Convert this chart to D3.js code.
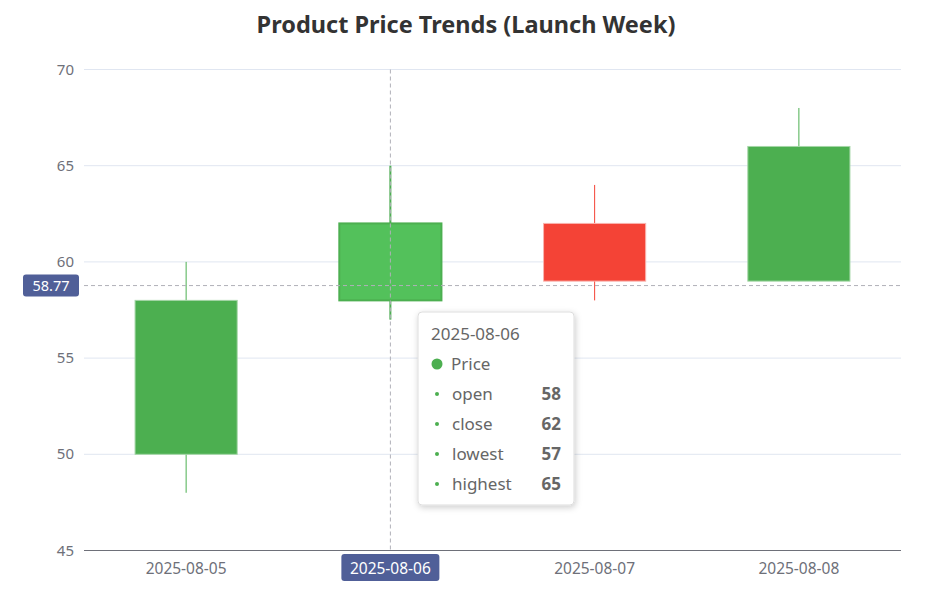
<!DOCTYPE html>
<html>
<head>
<meta charset="utf-8">
<script src="https://cdn.jsdelivr.net/npm/d3@7"></script>
<style>
  body { margin: 0; background: #fff; }
  svg { font-family: "Noto Sans", "Open Sans", sans-serif; }
</style>
</head>
<body>
<svg class="chartSVG" width="932" height="615"></svg>
<script>
const dates = ["2025-08-05", "2025-08-06", "2025-08-07", "2025-08-08"];
const openVals = [50, 58, 62, 59];
const closeVals = [58, 62, 59, 66];
const lowVals = [48, 57, 58, 59];
const highVals = [60, 65, 64, 68];
const yTicks = [45, 50, 55, 60, 65, 70];
const hoverIndex = 1;
const hoverValue = 58.77;

const svg = d3.select(".chartSVG");
const config = { left: 84, right: 901, top: 69.5, bottom: 550.5 };
const upColor = "#4caf50", downColor = "#f44336";

const x = d3.scaleBand().domain(dates).range([config.left, config.right]);
const y = d3.scaleLinear().domain([45, 70]).range([config.bottom, config.top]);

// title
svg.append("text")
  .attr("x", 466).attr("y", 33)
  .attr("text-anchor", "middle")
  .attr("font-size", 23.5).attr("font-weight", "bold").attr("fill", "#333")
  .text("Product Price Trends (Launch Week)");

// grid
svg.append("g").selectAll("line")
  .data(yTicks.slice(1))
  .join("line")
  .attr("x1", config.left).attr("x2", config.right)
  .attr("y1", d => y(d)).attr("y2", d => y(d))
  .attr("stroke", "#e0e6f1");

// y labels
svg.append("g").selectAll("text")
  .data(yTicks)
  .join("text")
  .attr("x", 74).attr("y", d => y(d) + 5)
  .attr("text-anchor", "end")
  .attr("font-size", 15).attr("fill", "#6e7079")
  .text(d => d);

// x axis line
svg.append("line")
  .attr("x1", config.left).attr("x2", config.right)
  .attr("y1", config.bottom).attr("y2", config.bottom)
  .attr("stroke", "#6e7079").attr("stroke-width", 1);

svg.append("g").selectAll("text")
  .data(dates)
  .join("text")
  .attr("x", d => x(d) + x.bandwidth() / 2).attr("y", 574)
  .attr("text-anchor", "middle")
  .attr("font-size", 15.5).attr("fill", "#6e7079")
  .text(d => d);

// candles
const candles = dates.map((d, i) => ({
  date: d, open: openVals[i], close: closeVals[i], low: lowVals[i], high: highVals[i], i: i
}));
const bw = x.bandwidth() * 0.5;

const g = svg.append("g").selectAll("g")
  .data(candles)
  .join("g");

g.append("line")
  .attr("x1", d => x(d.date) + x.bandwidth() / 2)
  .attr("x2", d => x(d.date) + x.bandwidth() / 2)
  .attr("y1", d => y(d.high)).attr("y2", d => y(d.low))
  .attr("stroke", d => d.close >= d.open ? upColor : downColor)
  .attr("stroke-width", d => d.i == hoverIndex ? 2 : 1);

g.append("rect")
  .attr("x", d => x(d.date) + (x.bandwidth() - bw) / 2)
  .attr("width", bw)
  .attr("y", d => y(Math.max(d.open, d.close)))
  .attr("height", d => y(Math.min(d.open, d.close)) - y(Math.max(d.open, d.close)))
  .attr("fill", d => d.i == hoverIndex ? "#53c15b" : (d.close >= d.open ? upColor : downColor))
  .attr("stroke", d => d.i == hoverIndex ? upColor : (d.close >= d.open ? "#a5d6a7" : "#f9b4ae"))
  .attr("stroke-width", d => d.i == hoverIndex ? 2 : 1);

// crosshair
const cx = x(dates[hoverIndex]) + x.bandwidth() / 2;
const cy = y(hoverValue);
svg.append("line")
  .attr("x1", cx).attr("x2", cx).attr("y1", config.top).attr("y2", config.bottom)
  .attr("stroke", "#b0b0b8").attr("stroke-dasharray", "4,3");
svg.append("line")
  .attr("x1", config.left).attr("x2", config.right).attr("y1", cy).attr("y2", cy)
  .attr("stroke", "#b0b0b8").attr("stroke-dasharray", "4,3");

// pointer labels
svg.append("rect")
  .attr("x", 23).attr("y", cy - 11).attr("width", 56).attr("height", 22)
  .attr("rx", 3).attr("fill", "#505f98");
svg.append("text")
  .attr("x", 51).attr("y", cy + 5)
  .attr("text-anchor", "middle").attr("font-size", 14.5).attr("fill", "#fff")
  .text(hoverValue);

svg.append("rect")
  .attr("x", cx - 49).attr("y", 554).attr("width", 98).attr("height", 27)
  .attr("rx", 3).attr("fill", "#505f98");
svg.append("text")
  .attr("x", cx).attr("y", 574)
  .attr("text-anchor", "middle").attr("font-size", 15.5).attr("fill", "#fff")
  .text(dates[hoverIndex]);

// tooltip
const defs = svg.append("defs");
const f = defs.append("filter").attr("id", "shadow").attr("x", "-20%").attr("y", "-20%").attr("width", "140%").attr("height", "140%");
f.append("feDropShadow").attr("dx", 1).attr("dy", 2).attr("stdDeviation", 3).attr("flood-color", "#000").attr("flood-opacity", 0.2);

const tip = svg.append("g").attr("transform", "translate(418,312)");
tip.append("rect")
  .attr("width", 156).attr("height", 193).attr("rx", 4)
  .attr("fill", "#fff").attr("stroke", "#ddd").attr("filter", "url(#shadow)");
tip.append("text").attr("x", 13).attr("y", 28)
  .attr("font-size", 17).attr("fill", "#666").text(dates[hoverIndex]);
tip.append("circle").attr("cx", 19).attr("cy", 52).attr("r", 5.5).attr("fill", upColor);
tip.append("text").attr("x", 33).attr("y", 58)
  .attr("font-size", 17).attr("fill", "#666").text("Price");

const c = candles[hoverIndex];
const rows = [["open", c.open], ["close", c.close], ["lowest", c.low], ["highest", c.high]];
const row = tip.selectAll(".row").data(rows).join("g")
  .attr("class", "row")
  .attr("transform", (d, i) => `translate(0,${88 + i * 30})`);
row.append("circle").attr("cx", 19).attr("cy", -6).attr("r", 2).attr("fill", upColor);
row.append("text").attr("x", 34).attr("font-size", 17).attr("fill", "#666").text(d => d[0]);
row.append("text").attr("x", 143).attr("text-anchor", "end")
  .attr("font-size", 17).attr("font-weight", "bold").attr("fill", "#666").text(d => d[1]);
</script>
</body>
</html>
